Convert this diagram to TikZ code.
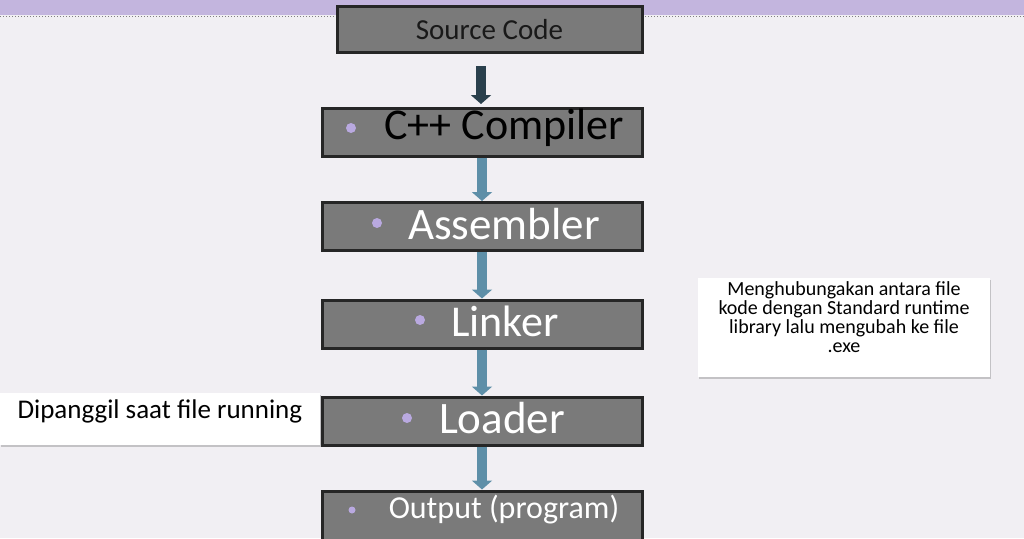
\documentclass[tikz,border=0pt]{standalone}
\usepackage{fontspec}
\setmainfont{Carlito}
\usetikzlibrary{arrows.meta,shadows}
\definecolor{bg}{HTML}{F1EFF3}
\definecolor{band}{HTML}{C3B5DE}
\definecolor{boxg}{HTML}{7A7A7A}
\definecolor{arr}{HTML}{5E8FA8}
\definecolor{bul}{HTML}{B9A9E0}
\tikzset{
 stepbox/.style={draw=black!85,line width=3pt,fill=boxg,minimum height=48pt,inner sep=0pt},
 flow/.style={-{Triangle[width=20pt,length=9pt]},line width=10pt,arr},
 note/.style={fill=white,drop shadow={shadow xshift=1pt,shadow yshift=-2pt,opacity=.4},align=center,inner sep=2pt},
 dot/.style={circle,fill=bul,inner sep=0pt,minimum size=10pt}
}
\begin{document}
\begin{tikzpicture}[x=1pt,y=-1pt]
\fill[bg] (0,0) rectangle (1024,538);
\useasboundingbox (0,0) rectangle (1024,538);
\fill[band] (0,0) rectangle (1024,15);
\draw[dotted,gray,line width=1pt] (0,16) -- (1024,16);
\node[stepbox,minimum width=305pt,minimum height=46pt] (src) at (489.5,29.5) {\fontsize{29}{31}\selectfont\color{black!90}Source Code};
\node[stepbox,minimum width=320pt] (cpp) at (482,132) {};
\node[dot] at (351,128) {};
\node at (504,128) {\fontsize{44}{46}\selectfont C++ Compiler};
\node[stepbox,minimum width=320pt] (asm) at (482,226.5) {};
\node[dot] at (377,223) {};
\node at (504,224) {\fontsize{45}{48}\selectfont\color{white}Assembler};
\node[stepbox,minimum width=320pt] (lnk) at (482,324) {};
\node[dot] at (420,320) {};
\node at (505,321) {\fontsize{44}{48}\selectfont\color{white}Linker};
\node[stepbox,minimum width=320pt] (ldr) at (482,421) {};
\node[dot] at (407,418) {};
\node at (502,418) {\fontsize{45}{48}\selectfont\color{white}Loader};
\node[stepbox,minimum width=320pt,minimum height=60pt] (out) at (482,521) {};
\node[dot,minimum size=7pt] at (352,510) {};
\node at (504,510) {\fontsize{32}{34}\selectfont\color{white}Output (program)};
\draw[flow,draw=black!55!arr,line width=10pt] (481,66) -- (481,104);
\draw[flow] (cpp.south) -- (asm.north);
\draw[flow] (asm.south) -- (lnk.north);
\draw[flow] (lnk.south) -- (ldr.north);
\draw[flow] (ldr.south) -- (out.north);
\node[note,minimum width=292pt,minimum height=99pt,anchor=north west] (n1) at (698,278) {};
\node[align=center,anchor=north,font=\fontsize{20}{19}\selectfont,inner sep=0pt] at (844,281) {Menghubungakan antara file\\kode dengan Standard runtime\\library lalu mengubah ke file\\.exe};
\node[note,minimum width=320pt,minimum height=52pt,anchor=north west] (n2) at (0,393) {};
\node[anchor=west] at (14,411) {\fontsize{27}{29}\selectfont Dipanggil saat file running};
\end{tikzpicture}
\end{document}
